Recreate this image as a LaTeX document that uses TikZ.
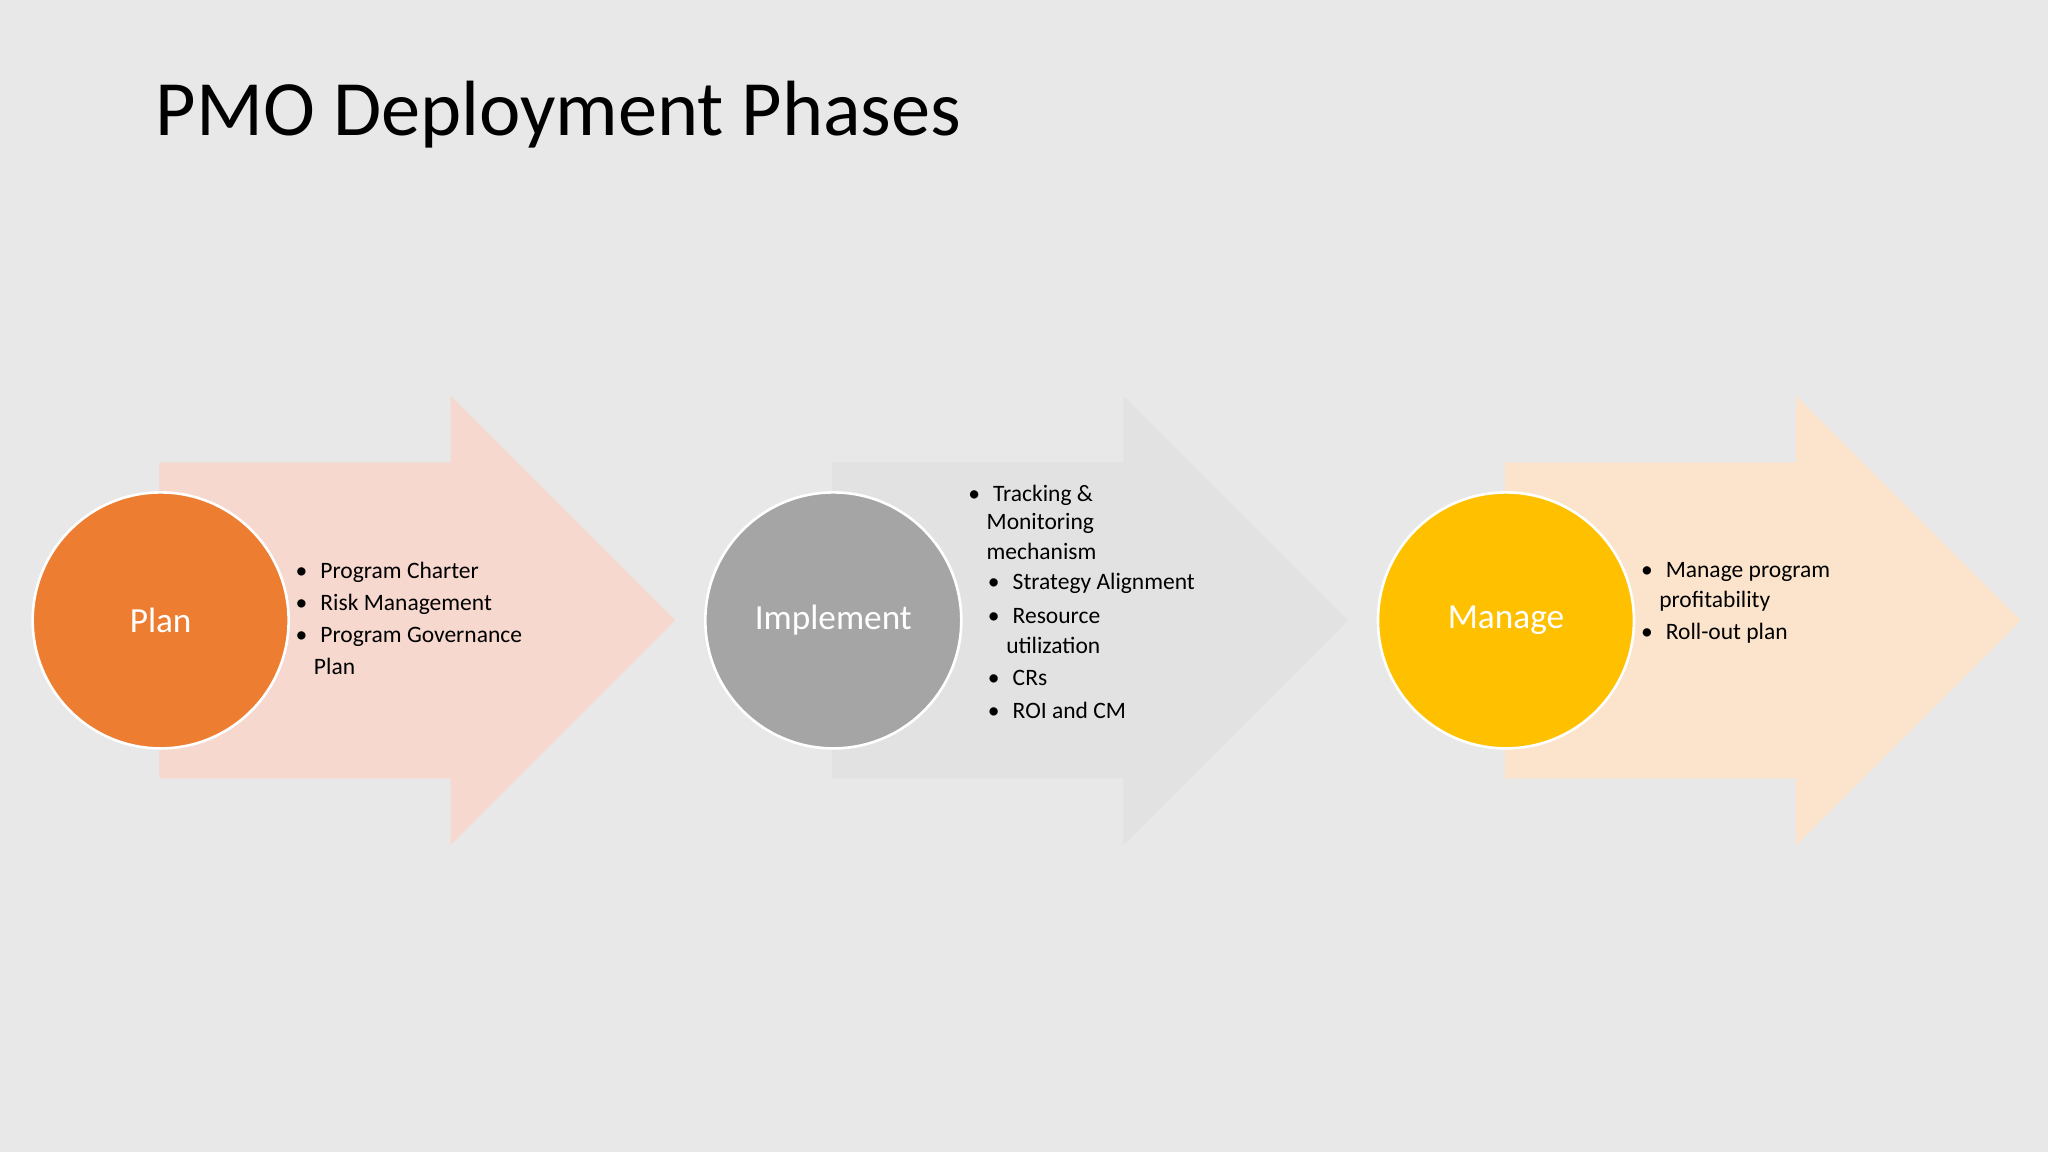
\documentclass[tikz,border=0pt]{standalone}
\usepackage{fontspec}
\setmainfont{Carlito}
\begin{document}
\begin{tikzpicture}[x=0.5pt,y=-0.5pt,
  arr/.style={draw=none},
  circ/.style={circle,draw=white,line width=1pt,minimum size=196*0.5pt,inner sep=0pt,text=white,font=\fontsize{13.5}{16}\selectfont},
  itm/.style={anchor=west,inner sep=0pt,font=\fontsize{9}{11}\selectfont}]
\definecolor{bg}{HTML}{E8E8E8}
\fill[bg] (0,0) rectangle (1568,882);
\useasboundingbox (0,0) rectangle (1568,882);
\node[anchor=west,inner sep=0pt,font=\fontsize{30}{36}\selectfont] (title) at (119,88) {PMO Deployment Phases};
\definecolor{a1}{HTML}{F6D8CF}\definecolor{a2}{HTML}{E2E2E2}\definecolor{a3}{HTML}{FCE4CC}
\foreach \dx/\c in {0/a1,515/a2,1030/a3}{
  \fill[\c] (122+\dx,354) -- (345+\dx,354) -- (345+\dx,303) -- (517+\dx,475) -- (345+\dx,647) -- (345+\dx,596) -- (122+\dx,596) -- cycle;
}
\definecolor{c1}{HTML}{ED7D31}\definecolor{c2}{HTML}{A5A5A5}\definecolor{c3}{HTML}{FFC000}
\node[circ,fill=c1] (plan) at (123,475) {Plan};
\node[circ,fill=c2] (impl) at (638,475) {Implement};
\node[circ,fill=c3] (man) at (1153,475) {Manage};
% Plan
\node[itm] (p1) at (226,438) {\textbullet\hspace{5pt}Program Charter};
\node[itm] (p2) at (226,463) {\textbullet\hspace{5pt}Risk Management};
\node[itm] (p3) at (226,488) {\textbullet\hspace{5pt}Program Governance};
\node[itm] (p4) at (240,510) {Plan};
% Implement
\node[itm] (i1) at (741,379) {\textbullet\hspace{5pt}Tracking \&};
\node[itm] (i2) at (755,401) {Monitoring};
\node[itm] (i3) at (755,422) {mechanism};
\node[itm] (i4) at (756,447) {\textbullet\hspace{5pt}Strategy Alignment};
\node[itm] (i5) at (756,472) {\textbullet\hspace{5pt}Resource};
\node[itm] (i6) at (770,494) {utilization};
\node[itm] (i7) at (756,519) {\textbullet\hspace{5pt}CRs};
\node[itm] (i8) at (756,544) {\textbullet\hspace{5pt}ROI and CM};
% Manage
\node[itm] (m1) at (1256,438) {\textbullet\hspace{5pt}Manage program};
\node[itm] (m2) at (1270,460) {profitability};
\node[itm] (m3) at (1256,485) {\textbullet\hspace{5pt}Roll-out plan};
\end{tikzpicture}
\end{document}
